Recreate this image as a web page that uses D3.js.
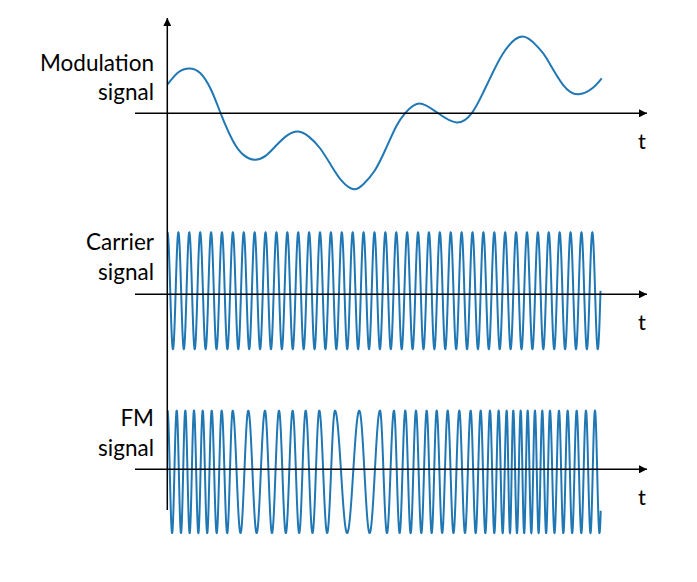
<!DOCTYPE html>
<html>
<head>
<meta charset="utf-8">
<script src="https://cdn.jsdelivr.net/npm/d3@7"></script>
<style>
  html, body { margin: 0; padding: 0; background: #fff; }
  svg { display: block; }
  text { font-family: Lato, "Open Sans", sans-serif; fill: #000; }
</style>
</head>
<body>
<svg id="chart" width="697" height="582"></svg>
<script>
// ---------------- data ----------------
// time is measured in carrier periods
const panelTitles = [["Modulation", "signal"], ["Carrier", "signal"], ["FM", "signal"]];
const axisLabel = "t";

// modulation signal, read at roughly even time steps
const modT = [0, 1, 2, 3, 4, 4.88, 6, 7, 8, 9, 10, 11, 12, 13, 14, 15, 16, 17.12, 18, 19, 20, 21, 21.8, 23.11, 24.85, 26.54, 27.92, 29, 29.91, 31, 32.6, 34, 34.81, 36.33, 37.71, 39, 39.86];
const modV = [0.38, 0.54, 0.59, 0.53, 0.31, 0.0, -0.36, -0.55, -0.61, -0.56, -0.42, -0.29, -0.24, -0.31, -0.46, -0.68, -0.89, -1.0, -0.93, -0.76, -0.48, -0.17, 0.0, 0.13, 0.0, -0.12, 0.0, 0.28, 0.55, 0.83, 1.01, 0.87, 0.72, 0.37, 0.25, 0.33, 0.46];

// carrier: constant frequency, total phase (cycles) at end of trace
const carrierEndT = 39.75;
const carrierEndCycles = 39.75;

// FM signal: time of each crest (crest k = k-th cycle), plus trace end
const fmCrestT = [0, 0.845, 1.634, 2.433, 3.231, 4.057, 4.975, 5.985, 7.417, 8.95, 10.235, 11.49, 12.686, 13.934, 15.375, 17.606, 19.506, 20.791, 21.829, 22.811, 23.793, 24.711, 25.721, 26.786, 27.832, 28.75, 29.604, 30.402, 31.137, 31.743, 32.422, 33.064, 33.734, 34.404, 35.111, 35.94, 36.736, 37.562, 38.416, 39.242];
const fmEndT = 39.77;
const fmEndCycles = 39.64;

// ---------------- layout ----------------
const svg = d3.select("#chart");
const blue = "#1f77b4";
const axisLeft = 135, axisRight = 647, vAxisX = 167.3;

const x = d3.scaleLinear().domain([0, carrierEndT]).range([167.5, 600.5]);

const panels = [
  { axisY: 113.3, y: d3.scaleLinear().domain([-1, 1]).range([189.3, 37.3]), labelY: 70.7 },
  { axisY: 294.3, y: d3.scaleLinear().domain([-1, 1]).range([349, 232.5]), labelY: 250 },
  { axisY: 469.3, y: d3.scaleLinear().domain([-1, 1]).range([533, 410.7]), labelY: 426 }
];

// arrow marker
svg.append("defs").append("marker")
  .attr("id", "arrow")
  .attr("viewBox", "0 0 8 8")
  .attr("refX", 8).attr("refY", 4)
  .attr("markerWidth", 8).attr("markerHeight", 8)
  .attr("markerUnits", "userSpaceOnUse")
  .attr("orient", "auto")
  .append("path").attr("d", "M0,0L8,4L0,8Z").attr("fill", "#000");

// ---------------- signals ----------------
const line = (yScale) => d3.line().x(d => x(d[0])).y(d => yScale(d[1]));

// modulation
const modData = modT.map((t, i) => [t, modV[i]]);
svg.append("path")
  .datum(modData)
  .attr("fill", "none").attr("stroke", blue).attr("stroke-width", 2)
  .attr("d", line(panels[0].y).curve(d3.curveNatural));

// carrier
const carrierPhase = d3.scaleLinear().domain([0, carrierEndT]).range([0, carrierEndCycles]);
const carrierData = d3.range(0, carrierEndT + 1e-9, 0.01).map(t => [t, Math.cos(2 * Math.PI * carrierPhase(t))]);
svg.append("path")
  .datum(carrierData)
  .attr("fill", "none").attr("stroke", blue).attr("stroke-width", 2)
  .attr("d", line(panels[1].y));

// FM
const fmPhase = d3.scaleLinear()
  .domain([...fmCrestT, fmEndT])
  .range([...fmCrestT.map((_, k) => k), fmEndCycles]);
const fmData = d3.range(0, fmEndT + 1e-9, 0.005).map(t => [t, Math.cos(2 * Math.PI * fmPhase(t))]);
svg.append("path")
  .datum(fmData)
  .attr("fill", "none").attr("stroke", blue).attr("stroke-width", 2)
  .attr("d", line(panels[2].y));

// ---------------- axes ----------------
svg.append("line")
  .attr("x1", vAxisX).attr("x2", vAxisX)
  .attr("y1", 510).attr("y2", 18)
  .attr("stroke", "#000").attr("stroke-width", 1.5)
  .attr("marker-end", "url(#arrow)");

panels.forEach((p, i) => {
  svg.append("line")
    .attr("x1", axisLeft).attr("x2", axisRight)
    .attr("y1", p.axisY).attr("y2", p.axisY)
    .attr("stroke", "#000").attr("stroke-width", 1.5)
    .attr("marker-end", "url(#arrow)");

  svg.append("text")
    .attr("x", 642).attr("y", p.axisY + 36)
    .attr("text-anchor", "middle")
    .attr("font-size", 22)
    .text(axisLabel);

  const lbl = svg.append("text")
    .attr("text-anchor", "end")
    .attr("font-size", 22.5);
  panelTitles[i].forEach((s, j) => {
    lbl.append("tspan")
      .attr("x", 154)
      .attr("y", p.labelY + j * 29.5)
      .text(s);
  });
});
</script>
</body>
</html>
